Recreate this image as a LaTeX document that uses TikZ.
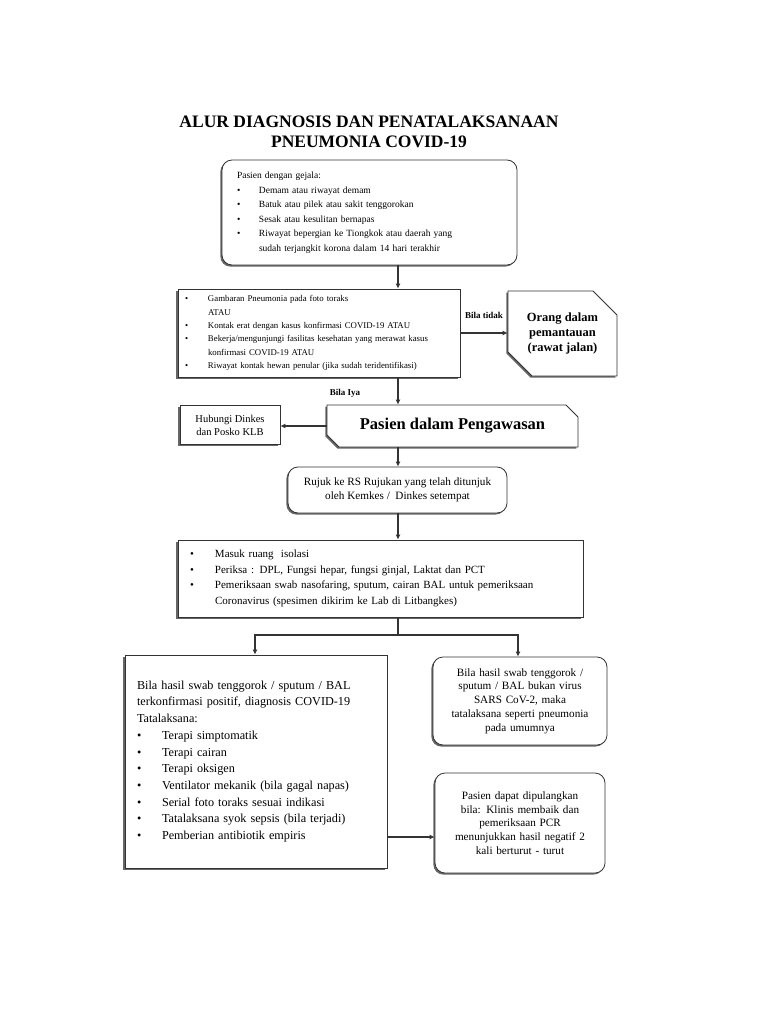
\documentclass[tikz,border=0pt]{standalone}
\usepackage{fontspec}
\setmainfont{Liberation Serif}
\usetikzlibrary{shapes.misc,shadows,arrows.meta}

\newcommand{\itm}[2][22pt]{\makebox[#1][l]{\textbullet}#2}

\begin{document}
\begin{tikzpicture}[x=1pt,y=-1pt,
	box/.style={draw=black!80, fill=white, line width=0.8pt, drop shadow={shadow xshift=-1.6pt, shadow yshift=-1.6pt, fill=black!60, opacity=1}},
	rbox/.style={box, rounded corners=10pt},
	cbox/.style={box, chamfered rectangle, chamfered rectangle corners={north east,south west}},
	conn/.style={line width=1.5pt, draw=black!80},
	arr/.style={conn, -{Latex[length=5pt,width=5pt]}},
	lbl/.style={font=\fontsize{9}{11}\selectfont\bfseries}]
				\fill[white] (0,0) rectangle (768,1024);
				\useasboundingbox (0,0) rectangle (768,1024);
				\node[align=center, font=\fontsize{17.5}{19.5}\selectfont\bfseries] (judul) at (369,132) {ALUR DIAGNOSIS DAN PENATALAKSANAAN\\PNEUMONIA COVID-19};
				\node[rbox, minimum width=295, minimum height=105, text width=265, inner xsep=15, align=left, font=\fontsize{9.5}{14.5}\selectfont] (gejala) at (369.5,212.5) {Pasien dengan gejala:\\ \itm{Demam atau riwayat demam}\\ \itm{Batuk atau pilek atau sakit tenggorokan}\\ \itm{Sesak atau kesulitan bernapas}\\ \itm{Riwayat bepergian ke Tiongkok atau daerah yang}\\ \hspace*{22pt}sudah terjangkit korona dalam 14 hari terakhir};
				\node[box, minimum width=282, minimum height=88, text width=268, inner xsep=7, align=left, font=\fontsize{8.8}{13.4}\selectfont] (kriteria) at (319,333) {\itm[23pt]{Gambaran Pneumonia pada foto toraks}\\ \hspace*{23pt}ATAU\\ \itm[23pt]{Kontak erat dengan kasus konfirmasi COVID-19 ATAU}\\ \itm[23pt]{Bekerja/mengunjungi fasilitas kesehatan yang merawat kasus}\\ \hspace*{23pt}konfirmasi COVID-19 ATAU\\ \itm[23pt]{Riwayat kontak hewan penular (jika sudah teridentifikasi)}};
				\node[cbox, chamfered rectangle xsep=12pt, chamfered rectangle ysep=12pt, minimum width=109, minimum height=85, align=center, font=\fontsize{12.5}{15}\selectfont\bfseries] (odp) at (562.5,333.5) {Orang dalam\\pemantauan\\(rawat jalan)};
				\node[cbox, chamfered rectangle xsep=6pt, chamfered rectangle ysep=6pt, minimum width=251, minimum height=42, font=\fontsize{16.5}{19}\selectfont\bfseries] (pdp) at (452.5,426) {Pasien dalam Pengawasan};
				\node[box, minimum width=100, minimum height=39, align=center, font=\fontsize{10.5}{13}\selectfont] (hubungi) at (230,425) {Hubungi Dinkes\\dan Posko KLB};
				\node[rbox, minimum width=219, minimum height=46, align=center, font=\fontsize{11.2}{14}\selectfont] (rujuk) at (397.5,490) {Rujuk ke RS Rujukan yang telah ditunjuk\\oleh Kemkes /\ \ Dinkes setempat};
				\node[box, minimum width=405, minimum height=77, text width=381, inner xsep=12, align=left, font=\fontsize{11}{15.5}\selectfont] (periksa) at (380.5,578.5) {\itm[25pt]{Masuk ruang\ \ isolasi}\\ \itm[25pt]{Periksa : DPL, Fungsi hepar, fungsi ginjal, Laktat dan PCT}\\ \itm[25pt]{Pemeriksaan swab nasofaring, sputum, cairan BAL untuk pemeriksaan}\\ \hspace*{25pt}Coronavirus (spesimen dikirim ke Lab di Litbangkes)};
				\node[box, minimum width=262, minimum height=213, text width=238, inner xsep=12, align=left, font=\fontsize{12.2}{16.7}\selectfont] (positif) at (256,761.5) {Bila hasil swab tenggorok / sputum / BAL\\ terkonfirmasi positif, diagnosis COVID-19\\ Tatalaksana:\\ \itm[25pt]{Terapi simptomatik}\\ \itm[25pt]{Terapi cairan}\\ \itm[25pt]{Terapi oksigen}\\ \itm[25pt]{Ventilator mekanik (bila gagal napas)}\\ \itm[25pt]{Serial foto toraks sesuai indikasi}\\ \itm[25pt]{Tatalaksana syok sepsis (bila terjadi)}\\ \itm[25pt]{Pemberian antibiotik empiris}};
				\node[rbox, minimum width=174, minimum height=88, text width=166, align=center, font=\fontsize{11.2}{13.8}\selectfont] (negatif) at (520,701) {Bila hasil swab tenggorok /\\ sputum / BAL bukan virus\\ SARS CoV-2, maka\\ tatalaksana seperti pneumonia\\ pada umumnya};
				\node[rbox, minimum width=170, minimum height=100, text width=162, align=center, font=\fontsize{11.2}{13.8}\selectfont] (pulang) at (520,823) {Pasien dapat dipulangkan\\ bila: Klinis membaik dan\\ pemeriksaan PCR\\ menunjukkan hasil negatif 2\\ kali berturut - turut};
				% connectors
				\coordinate (spine) at (398,0);
				\coordinate (cabang) at (398,635);
				\coordinate (kiri) at (255,635);
				\coordinate (kanan) at (518,635);
				\coordinate (pulangin) at (0,837);
				\draw[arr] (gejala.south -| spine) -- (kriteria.north -| spine);
				\draw[arr] (kriteria.east) -- (kriteria.east -| odp.west);
				\node[lbl] (tidak) at (484,315) {Bila tidak};
				\draw[arr] (kriteria.south -| spine) -- (pdp.north -| spine);
				\node[lbl] (iya) at (345,393) {Bila Iya};
				\draw[arr] (pdp.west) -- (pdp.west -| hubungi.east);
				\draw[arr] (pdp.south -| spine) -- (rujuk.north -| spine);
				\draw[arr] (rujuk.south -| spine) -- (periksa.north -| spine);
				\draw[conn] (periksa.south -| spine) -- (cabang);
				\draw[arr] (cabang) -- (kiri) -- (kiri |- positif.north);
				\draw[arr] (cabang) -- (kanan) -- (kanan |- negatif.north);
				\draw[arr] (positif.east |- pulangin) -- (pulang.west |- pulangin);
			\end{tikzpicture}
\end{document}
